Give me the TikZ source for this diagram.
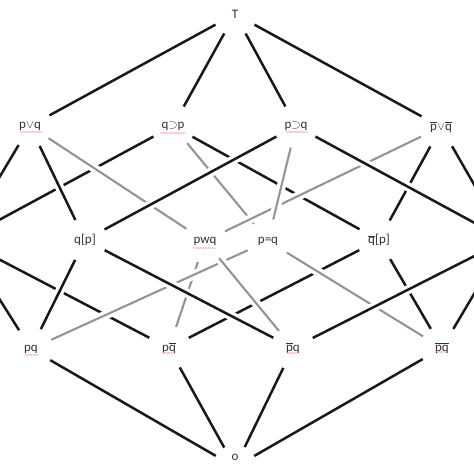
\documentclass[tikz,border=0pt]{standalone}
\usepackage{fontspec}
\setmainfont{Carlito}
\usetikzlibrary{decorations.pathmorphing}
\newcommand{\ob}[1]{$\overline{\mbox{#1}}$}
\begin{document}
\begin{tikzpicture}[x=1pt,y=-1pt,
  vx/.style={circle, minimum size=44pt, inner sep=0pt, font=\fontsize{13}{14}\selectfont, text=black!80},
  lab/.style={inner sep=0pt, font=\fontsize{13}{14}\selectfont, text=black!80},
  blk/.style={draw=black!90, line width=2.5pt, preaction={draw=white, line width=9pt}},
  gry/.style={draw=black!42, line width=2.1pt, preaction={draw=white, line width=9pt}},
  spell/.style={draw=red!45, line width=0.4pt, decorate, decoration={snake, segment length=2.4pt, amplitude=0.5pt}}]
\useasboundingbox (0,0) rectangle (474,474);
\clip (0,0) rectangle (474,474);
\fill[white] (0,0) rectangle (474,474);
% nodes
\node[vx] (T) at (235,14) {T};
\node[vx] (por) at (30,126) {p$\vee$q};
\node[vx] (qimp) at (173,126) {q$\supset$p};
\node[vx] (pimp) at (296,126) {p$\supset$q};
\node[vx] (nor) at (441,127) {\ob{p}$\vee$\ob{q}};
\node[vx] (p) at (-38,240) {};
\node[vx] (q) at (85,240) {q[p]};
\node[vx] (xor) at (205,241) {pwq};
\node[vx] (eq) at (268,241) {p=q};
\node[vx] (nq) at (379,240) {\ob{q}[p]};
\node[vx] (np) at (506,240) {};
\node[vx] (pq) at (31,349) {pq};
\node[vx] (pnq) at (169,348) {p\ob{q}};
\node[vx] (npq) at (293,348) {\ob{p}q};
\node[vx] (npnq) at (442,348) {\ob{pq}};
\node[vx] (o) at (235,467) {};
\node[lab] (olab) at (235,457) {o};
% spell-check marks
\draw[spell] (20,132) -- (43,132);
\draw[spell] (160,133) -- (186,133);
\draw[spell] (285,132) -- (308,132);
\draw[spell] (193,248) -- (216,248);
\draw[spell] (25,355) -- (39,355);
\draw[spell] (163,353) -- (174,353);
\draw[spell] (287,353) -- (298,353);
\draw[spell] (436,352) -- (447,352);
% top
\draw[blk] (T) -- (por);
\draw[blk] (T) -- (qimp);
\draw[blk] (T) -- (pimp);
\draw[blk] (T) -- (nor);
% upper middle
\draw[blk] (qimp) -- (p);
\draw[blk] (qimp) -- (nq);
\draw[gry] (qimp) -- (eq);
\draw[blk] (nor) -- (nq);
\draw[gry] (por) -- (xor);
\draw[blk] (por) -- (q);
\draw[blk] (por) -- (p);
\draw[gry] (nor) -- (xor);
\draw[gry] (pimp) -- (eq);
\draw[blk] (pimp) -- (q);
\draw[blk] (pimp) -- (np);
\draw[blk] (nor) -- (np);
% lower middle
\draw[blk] (p) -- (pnq);
\draw[gry] (xor) -- (pnq);
\draw[blk] (nq) -- (pnq);
\draw[blk] (nq) -- (npnq);
\draw[gry] (eq) -- (pq);
\draw[gry] (eq) -- (npnq);
\draw[gry] (xor) -- (npq);
\draw[blk] (q) -- (pq);
\draw[blk] (q) -- (npq);
\draw[blk] (np) -- (npq);
\draw[blk] (np) -- (npnq);
\draw[blk] (p) -- (pq);
% bottom
\draw[blk] (pq) -- (o);
\draw[blk] (pnq) -- (o);
\draw[blk] (npq) -- (o);
\draw[blk] (npnq) -- (o);
\end{tikzpicture}
\end{document}
